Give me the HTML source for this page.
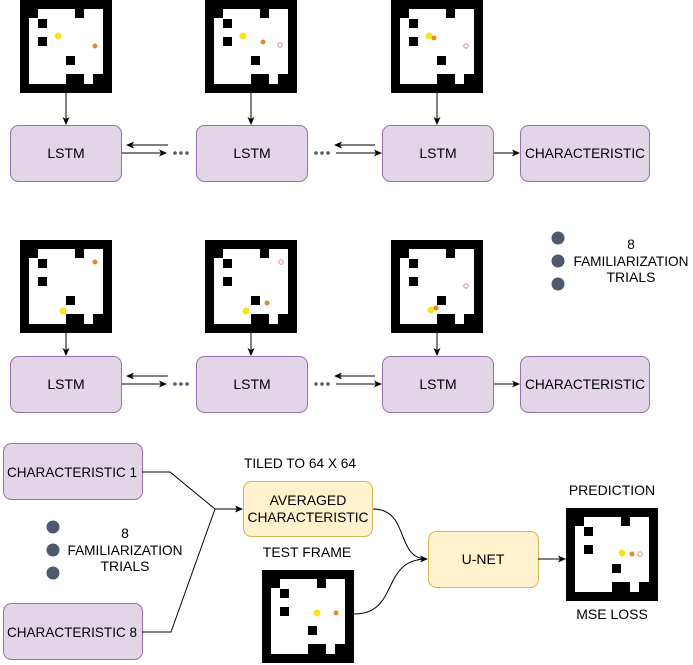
<!DOCTYPE html>
<html><head><meta charset="utf-8"><style>
html,body{margin:0;padding:0;background:#fff;}
svg{display:block;font-family:"Liberation Sans",Arial,sans-serif;}
</style></head><body>
<svg width="693" height="665" viewBox="0 0 693 665" xmlns="http://www.w3.org/2000/svg">
<defs>
<marker id="ah" markerWidth="8" markerHeight="8" refX="7" refY="4" orient="auto" markerUnits="userSpaceOnUse">
<path d="M0,0.5 L8,4 L0,7.5 L2,4 Z" fill="#000"/></marker>
<g id="maze">
<rect x="0" y="0" width="92" height="93" fill="#000"/>
<rect x="9" y="9" width="74" height="75" fill="#fff"/>
<rect x="9" y="9" width="9" height="9" fill="#000"/>
<rect x="55" y="9" width="9" height="9" fill="#000"/>
<rect x="18" y="19" width="9" height="9" fill="#000"/>
<rect x="18" y="37" width="9" height="9" fill="#000"/>
<rect x="46" y="56" width="9" height="9" fill="#000"/>
<rect x="46" y="74" width="18" height="10" fill="#000"/>
<rect x="73" y="74" width="10" height="10" fill="#000"/>
</g>
</defs>
<g stroke="#9673a6" fill="#e1d5e7" stroke-width="1">
<rect x="10.5" y="125.5" width="111" height="56" rx="8"/>
<rect x="196.5" y="125.5" width="111" height="56" rx="8"/>
<rect x="382.5" y="125.5" width="111" height="56" rx="8"/>
<rect x="520.5" y="125.5" width="129" height="56" rx="8"/>
<rect x="10.5" y="356.5" width="111" height="56" rx="8"/>
<rect x="196.5" y="356.5" width="111" height="56" rx="8"/>
<rect x="382.5" y="356.5" width="111" height="56" rx="8"/>
<rect x="520.5" y="356.5" width="129" height="56" rx="8"/>
<rect x="3.5" y="443.5" width="139" height="56" rx="8"/>
<rect x="3.5" y="603.5" width="139" height="56" rx="8"/>
</g>
<g stroke="#d6b656" fill="#fff2cc">
<rect x="243.5" y="481.5" width="129" height="55" rx="8"/>
<rect x="428.5" y="531.5" width="110" height="56" rx="8"/>
</g>
<use href="#maze" x="20" y="0"/>
<use href="#maze" x="205" y="0"/>
<use href="#maze" x="391" y="0"/>
<use href="#maze" x="20" y="240"/>
<use href="#maze" x="205" y="240"/>
<use href="#maze" x="391" y="240"/>
<use href="#maze" x="262" y="570"/>
<use href="#maze" x="566" y="508"/>
<g>
<circle cx="58" cy="36" r="3.5" fill="#f5e51a"/><circle cx="95" cy="46" r="2.5" fill="#e08a2c"/>
<circle cx="243" cy="36" r="3.5" fill="#f5e51a"/><circle cx="263" cy="42" r="2.5" fill="#e08a2c"/><circle cx="280" cy="45" r="2.2" fill="none" stroke="#d48ca0"/>
<circle cx="429" cy="36" r="3.5" fill="#f5e51a"/><circle cx="434" cy="38" r="2.5" fill="#e08a2c"/><circle cx="466" cy="46" r="2.2" fill="none" stroke="#d48ca0"/>
<circle cx="95" cy="262" r="2.5" fill="#e08a2c"/><circle cx="63" cy="311" r="3.5" fill="#f5e51a"/>
<circle cx="281" cy="262" r="2.2" fill="none" stroke="#d48ca0"/><circle cx="267" cy="303" r="2.5" fill="#e08a2c"/><circle cx="246" cy="311" r="3.5" fill="#f5e51a"/>
<circle cx="466" cy="286" r="2.2" fill="none" stroke="#d48ca0"/><circle cx="431" cy="310" r="3.5" fill="#f5e51a"/><circle cx="436" cy="308" r="2.5" fill="#e08a2c"/>
<circle cx="317" cy="613" r="3.5" fill="#f5e51a"/><circle cx="336" cy="613" r="2.5" fill="#e08a2c"/>
<circle cx="622" cy="553" r="3.5" fill="#f5e51a"/><circle cx="632" cy="554" r="2.5" fill="#e08a2c"/><circle cx="640" cy="554" r="2.2" fill="none" stroke="#d48ca0"/>
</g>
<g stroke="#000" stroke-width="1" fill="none">
<line x1="66" y1="93" x2="66" y2="124" marker-end="url(#ah)"/>
<line x1="251" y1="93" x2="251" y2="124" marker-end="url(#ah)"/>
<line x1="437" y1="93" x2="437" y2="124" marker-end="url(#ah)"/>
<line x1="66" y1="333" x2="66" y2="355" marker-end="url(#ah)"/>
<line x1="251" y1="333" x2="251" y2="355" marker-end="url(#ah)"/>
<line x1="437" y1="333" x2="437" y2="355" marker-end="url(#ah)"/>
<line x1="168" y1="145" x2="127" y2="145" marker-end="url(#ah)"/>
<line x1="122" y1="153" x2="166" y2="153" marker-end="url(#ah)"/>
<line x1="375" y1="145" x2="335" y2="145" marker-end="url(#ah)"/>
<line x1="336" y1="153" x2="381" y2="153" marker-end="url(#ah)"/>
<line x1="494" y1="153" x2="519" y2="153" marker-end="url(#ah)"/>
<line x1="168" y1="376" x2="127" y2="376" marker-end="url(#ah)"/>
<line x1="122" y1="384" x2="166" y2="384" marker-end="url(#ah)"/>
<line x1="375" y1="376" x2="335" y2="376" marker-end="url(#ah)"/>
<line x1="336" y1="384" x2="381" y2="384" marker-end="url(#ah)"/>
<line x1="494" y1="384" x2="519" y2="384" marker-end="url(#ah)"/>
<polyline points="142,472 170,472 215,509 242,509" marker-end="url(#ah)"/>
<polyline points="142,632 171,632 215,509"/>
<path d="M373,509 C410,509 395,559 427,559" marker-end="url(#ah)"/>
<path d="M354,614 C400,614 380,559 427,559"/>
<line x1="538" y1="559" x2="565" y2="559" marker-end="url(#ah)"/>
</g>
<g fill="#4d5a6e">
<circle cx="175" cy="153" r="1.8"/><circle cx="181" cy="153" r="1.8"/><circle cx="187" cy="153" r="1.8"/>
<circle cx="316" cy="153" r="1.8"/><circle cx="322" cy="153" r="1.8"/><circle cx="328" cy="153" r="1.8"/>
<circle cx="175" cy="384" r="1.8"/><circle cx="181" cy="384" r="1.8"/><circle cx="187" cy="384" r="1.8"/>
<circle cx="316" cy="384" r="1.8"/><circle cx="322" cy="384" r="1.8"/><circle cx="328" cy="384" r="1.8"/>
<circle cx="558" cy="238" r="6.5"/><circle cx="558" cy="261" r="6.5"/><circle cx="558" cy="284" r="6.5"/>
<circle cx="53" cy="527" r="6.5"/><circle cx="53" cy="550" r="6.5"/><circle cx="53" cy="573" r="6.5"/>
</g>
<g font-size="14" fill="#000" text-anchor="middle">
<text x="66" y="158">LSTM</text><text x="252" y="158">LSTM</text><text x="438" y="158">LSTM</text>
<text x="585" y="158" textLength="120" lengthAdjust="spacingAndGlyphs">CHARACTERISTIC</text>
<text x="66" y="389">LSTM</text><text x="252" y="389">LSTM</text><text x="438" y="389">LSTM</text>
<text x="585" y="389" textLength="120" lengthAdjust="spacingAndGlyphs">CHARACTERISTIC</text>
<text x="631" y="249">8</text>
<text x="631" y="266" textLength="115" lengthAdjust="spacingAndGlyphs">FAMILIARIZATION</text>
<text x="631" y="282">TRIALS</text>
<text x="125" y="538">8</text>
<text x="125" y="555" textLength="115" lengthAdjust="spacingAndGlyphs">FAMILIARIZATION</text>
<text x="125" y="571">TRIALS</text>
<text x="72" y="477" textLength="130" lengthAdjust="spacingAndGlyphs">CHARACTERISTIC 1</text>
<text x="72" y="637" textLength="130" lengthAdjust="spacingAndGlyphs">CHARACTERISTIC 8</text>
<text x="300" y="468" textLength="112" lengthAdjust="spacingAndGlyphs">TILED TO 64 X 64</text>
<text x="308" y="505">AVERAGED</text>
<text x="308" y="522" textLength="121" lengthAdjust="spacingAndGlyphs">CHARACTERISTIC</text>
<text x="483" y="564">U-NET</text>
<text x="307" y="557">TEST FRAME</text>
<text x="612" y="495">PREDICTION</text>
<text x="612" y="619">MSE LOSS</text>
</g>
</svg>
</body></html>
